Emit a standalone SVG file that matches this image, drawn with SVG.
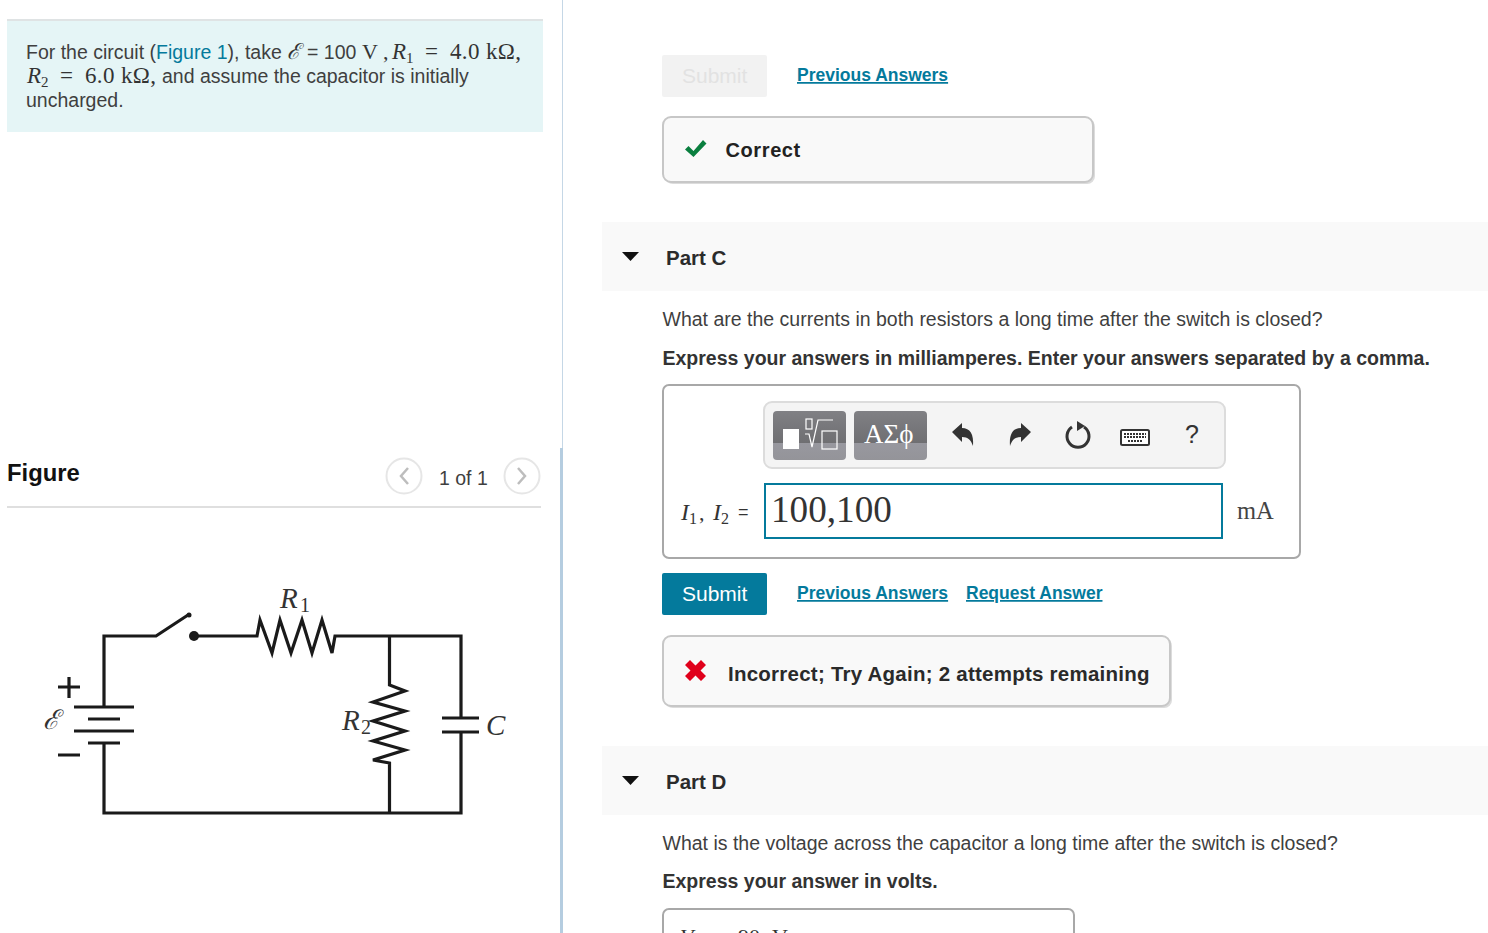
<svg xmlns="http://www.w3.org/2000/svg" width="1488" height="933" viewBox="0 0 1488 933" font-size="19.5">
<style>
text{font-family:"Liberation Sans",Arial,sans-serif;fill:#3f3f3f}
.t{font-family:"Liberation Serif","Times New Roman",serif;fill:#333}
.i{font-style:italic}
.b{font-weight:bold}
.lnk{fill:#047a9c}
.u{text-decoration:underline;font-weight:bold;font-size:17.5px}
.w{fill:none;stroke:#1a1a1a;stroke-width:3.2}
.box{fill:#f9f9f9;stroke:#c7c7c7;stroke-width:2}
.shadow{fill:#dcdcdc}
.head{fill:#f9f9f9}
.ic{fill:#333}
.wh{fill:#fff}
.dk{fill:#333}
</style>
<defs><linearGradient id="tb" x1="0" y1="0" x2="0" y2="1"><stop offset="0" stop-color="#808084"/><stop offset=".65" stop-color="#6f6f72"/><stop offset=".65" stop-color="#98989f"/><stop offset="1" stop-color="#949499"/></linearGradient></defs>
<rect width="1488" height="933" fill="#fff"/>
<rect x="562" y="0" width="1" height="448" fill="#c5d7e6"/>
<rect x="560" y="448" width="3" height="485" fill="#b5cde0"/>
<g id="intro">
<rect x="7" y="19" width="536" height="113" fill="#e5f5f6"/>
<rect x="7" y="19" width="536" height="2" fill="#dfe3e4"/>
<text x="26" y="59">For the circuit (<tspan class="lnk">Figure 1</tspan>), take</text>
<text x="287" y="59" class="t i" font-size="22">ℰ</text>
<text x="307" y="59">= 100</text>
<text x="362" y="59" class="t" font-size="22">V ,</text>
<text x="392" y="59" class="t i" font-size="23">R<tspan font-size="15" dy="4" font-style="normal">1</tspan></text>
<text x="425" y="59" class="t" font-size="23">=</text>
<text x="450" y="59" class="t" font-size="23" textLength="71">4.0 kΩ,</text>
<text x="27" y="83" class="t i" font-size="23">R<tspan font-size="15" dy="4" font-style="normal">2</tspan></text>
<text x="60" y="83" class="t" font-size="23">=</text>
<text x="85" y="83" class="t" font-size="23" textLength="71">6.0 kΩ,</text>
<text x="162" y="83">and assume the capacitor is initially</text>
<text x="26" y="107">uncharged.</text>
</g>
<g id="figure-header">
<text x="7" y="481" class="b" font-size="23.800" style="fill:#111">Figure</text>
<circle cx="404" cy="476" r="17.5" fill="#fff" stroke="#e6e6e6" stroke-width="2"/>
<path d="M408 468l-7 8 7 8" fill="none" stroke="#bdbdbd" stroke-width="2.5"/>
<text x="439" y="485">1 of 1</text>
<circle cx="522" cy="476" r="17.5" fill="#fff" stroke="#e6e6e6" stroke-width="2"/>
<path d="M518 468l7 8-7 8" fill="none" stroke="#bdbdbd" stroke-width="2.5"/>
<rect x="7" y="506" width="534" height="2" fill="#dfdfdf"/>
</g>
<g id="circuit">
<path class="w" d="M104 707V636H156L188 615"/>
<circle cx="189" cy="615" r="2.5" fill="#1a1a1a"/>
<circle cx="194" cy="636" r="5" fill="#1a1a1a"/>
<path class="w" d="M194 636H257L260 620L272 653L280 620L291 653L302 620L312 653L322 620L332 653L335 636H461V717M389.500 636V685L405 691 373 702 405 711 373 721 405 731 373 741 405 750 373 760 389.500 763V813M461 733V813H104V743"/>
<path class="w" d="M74 707H134M88 719H120M74 731H134M88 743H120M442 718H479M442 732H479"/>
<path class="w" d="M58 687H80M69 677V698M58 755H80"/>
<text x="280" y="608" class="t i" font-size="29">R</text><text x="300" y="612" class="t" font-size="20">1</text>
<text x="342" y="730" class="t i" font-size="29">R</text><text x="361" y="734" class="t" font-size="20">2</text>
<text x="43" y="729" class="t i" font-size="27">ℰ</text>
<text x="486" y="735" class="t i" font-size="29">C</text>
</g>
<g id="partb-result">
<rect x="662" y="55" width="105" height="42" rx="2" fill="#f2f2f2"/>
<text x="682" y="83" font-size="21" style="fill:#e2e2e2">Submit</text>
<text x="797" y="81" class="lnk u">Previous Answers</text>
<rect x="665" y="119" width="430" height="65" rx="8" class="shadow"/>
<rect x="663" y="117" width="430" height="65" rx="8" class="box"/>
<path d="M685 149.500l3.500-3.500 5 5 9.500-11 3.500 3.500-13 13.500z" fill="#0a7f3f"/>
<text x="725.500" y="157" class="b" font-size="20" style="fill:#222;letter-spacing:.6px">Correct</text>
</g>
<g id="partc">
<rect x="602" y="222" width="886" height="69" class="head"/>
<path d="M622 252h17l-8.500 9z" fill="#111"/>
<text x="666" y="265" class="b" font-size="20.500" style="fill:#2b2b2b">Part C</text>
<text x="662.500" y="326">What are the currents in both resistors a long time after the switch is closed?</text>
<text x="662.500" y="365" class="b" style="fill:#333">Express your answers in milliamperes. Enter your answers separated by a comma.</text>
<rect x="663" y="385" width="637" height="173" rx="6" fill="#fff" stroke="#a8a8a8" stroke-width="2"/>
<rect x="764" y="402" width="461" height="66" rx="8" fill="#f4f4f4" stroke="#dcdcdc" stroke-width="2"/>
<rect x="773" y="411" width="73" height="49" rx="4" fill="url(#tb)"/>
<rect x="854" y="411" width="73" height="49" rx="4" fill="url(#tb)"/>
<rect x="783" y="429" width="16" height="20" fill="#fff"/>
<path d="M805 434l4 0 3 13 6-27h15" fill="none" stroke="#fff" stroke-width="1.200"/>
<rect x="806" y="419" width="6" height="10" fill="none" stroke="#fff" stroke-width="1.200"/>
<rect x="822" y="431" width="15" height="18" fill="none" stroke="#fff" stroke-width="1.200"/>
<text x="864" y="443" class="t wh" font-size="27">ΑΣϕ</text>
<path class="ic" d="M952 432l10-9v5c8 0 12 6 11 18-2-6-5-9-11-9v5z"/>
<path class="ic" d="M1031 432l-10-9v5c-8 0-12 6-11 18 2-6 5-9 11-9v5z"/>
<path d="M1072 427a11 11 0 1 0 12 0" fill="none" stroke="#333" stroke-width="3"/>
<path class="ic" d="M1077 421l8 5-8 5z"/>
<rect x="1121" y="430" width="28" height="15" rx="1.500" fill="#fff" stroke="#333" stroke-width="2"/>
<path d="M1124 434h22M1124 437h22M1128 441h14" stroke="#333" stroke-width="2" stroke-dasharray="2 1"/>
<text x="1185" y="443" font-size="25" class="dk">?</text>
<text x="681" y="520" class="t i" font-size="24">I<tspan font-size="16" dy="4" font-style="normal">1</tspan></text>
<text x="699" y="520" class="t" font-size="22">,</text>
<text x="713" y="520" class="t i" font-size="24">I<tspan font-size="16" dy="4" font-style="normal">2</tspan></text>
<text x="738" y="518" font-size="18" class="dk">=</text>
<rect x="765" y="484" width="457" height="54" fill="#fff" stroke="#047a9c" stroke-width="2"/>
<text x="771" y="522" class="t" font-size="37.200">100,100</text>
<text x="1237" y="519" class="t" font-size="24.500" style="fill:#444">mA</text>
<rect x="662" y="573" width="105" height="42" rx="2" fill="#047a9c"/>
<text x="682" y="601" font-size="21" class="wh">Submit</text>
<text x="797" y="599" class="lnk u">Previous Answers</text>
<text x="966" y="599" class="lnk u">Request Answer</text>
<rect x="665" y="638" width="507" height="70" rx="8" class="shadow"/>
<rect x="663" y="636" width="507" height="70" rx="8" class="box"/>
<path d="M690 660l5.500 5.500 5.500-5.500 5 5-5.500 5.500 5.500 5.500-5 5-5.500-5.500-5.500 5.500-5-5 5.500-5.500-5.500-5.500z" fill="#e0001b"/>
<text x="728" y="681" class="b" font-size="20.500" style="fill:#2a2a2a;letter-spacing:.24px">Incorrect; Try Again; 2 attempts remaining</text>
</g>
<g id="partd">
<rect x="602" y="746" width="886" height="69" class="head"/>
<path d="M622 776h17l-8.500 9z" fill="#111"/>
<text x="666" y="789" class="b" font-size="20.500" style="fill:#2b2b2b">Part D</text>
<text x="662.500" y="850">What is the voltage across the capacitor a long time after the switch is closed?</text>
<text x="662.500" y="888" class="b" style="fill:#333">Express your answer in volts.</text>
<rect x="663" y="909" width="411" height="60" rx="6" fill="#fff" stroke="#a8a8a8" stroke-width="2"/>
<text x="680" y="944" class="t i" font-size="22">V</text>
<text x="738" y="944" class="t" font-size="22">90</text>
<text x="772" y="944" class="t" font-size="22">V</text>
</g>
</svg>
